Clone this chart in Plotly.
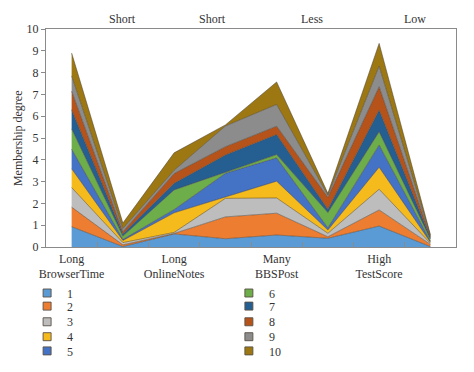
import plotly.graph_objects as go

# Category positions along the x axis (0..7)
x_pos = [0, 1, 2, 3, 4, 5, 6, 7]
bottom_labels = ["Long<br>BrowserTime", "Long<br>OnlineNotes", "Many<br>BBSPost", "High<br>TestScore"]
bottom_label_pos = [0, 2, 4, 6]
top_labels = ["Short", "Short", "Less", "Low"]
top_label_pos = [1, 3, 5, 7]

series_names = ["1", "2", "3", "4", "5", "6", "7", "8", "9", "10"]
s1 = [0.93, 0.02, 0.60, 0.38, 0.55, 0.40, 0.96, 0.02]
s2 = [0.90, 0.08, 0.02, 1.00, 1.00, 0.07, 0.74, 0.10]
s3 = [0.90, 0.10, 0.05, 0.85, 0.70, 0.16, 0.95, 0.05]
s4 = [0.86, 0.10, 0.90, 0.08, 0.77, 0.15, 1.01, 0.05]
s5 = [0.90, 0.05, 0.15, 1.07, 1.07, 0.10, 1.02, 0.05]
s6 = [0.93, 0.15, 0.90, 0.04, 0.15, 0.70, 0.61, 0.10]
s7 = [0.88, 0.10, 0.30, 0.80, 0.92, 0.15, 0.99, 0.05]
s8 = [0.85, 0.10, 0.45, 0.38, 0.38, 0.55, 1.07, 0.05]
s9 = [0.70, 0.15, 0.15, 0.95, 1.00, 0.10, 0.95, 0.05]
s10 = [1.05, 0.25, 0.80, 0.05, 1.03, 0.08, 1.04, 0.05]
series_values = [s1, s2, s3, s4, s5, s6, s7, s8, s9, s10]

colors = ["#5B9BD5", "#ED7D31", "#BDBDBD", "#F5BA1C", "#4472C4",
          "#6DAE4A", "#255E91", "#B5531A", "#8C8C8C", "#9C7712"]

FONT = "Liberation Serif"
fig = go.Figure()

for name, vals, col in zip(series_names, series_values, colors):
    fig.add_trace(go.Scatter(
        x=x_pos, y=vals, name=name, stackgroup="one", mode="lines",
        line=dict(color="rgba(70,60,50,0.85)", width=0.6),
        fillcolor=col, showlegend=False, hoverinfo="skip"))

# Legend entries: one legend per item, arranged in two columns (container coords)
leg_rows_y = [0.217, 0.181, 0.138, 0.097, 0.058]
leg_cols_x = [0.041, 0.474]
layout_legends = {}
for i, (name, col) in enumerate(zip(series_names, colors)):
    lid = "legend" if i == 0 else f"legend{i+1}"
    fig.add_trace(go.Scatter(
        x=[None], y=[None], name=name, mode="markers",
        marker=dict(symbol="square", size=8, color=col,
                    line=dict(color="rgba(90,80,70,0.9)", width=1)),
        legend=lid, showlegend=True))
    layout_legends[lid] = dict(
        x=leg_cols_x[i // 5], y=leg_rows_y[i % 5], xref="container", yref="container",
        xanchor="left", yanchor="middle",
        bgcolor="rgba(0,0,0,0)", font=dict(family=FONT, size=12, color="#333"),
        itemwidth=30, tracegroupgap=0)

# Top labels
for lab, pos, sh in zip(top_labels, top_label_pos, [0, -13, -16, -15]):
    fig.add_annotation(x=pos, y=1, xref="x", yref="paper", text=lab,
                       showarrow=False, yanchor="bottom", yshift=1, xshift=sh,
                       font=dict(family=FONT, size=12, color="#333"))

# Y-axis title
fig.add_annotation(x=-0.068, y=0.5, xref="paper", yref="paper", text="Membership degree",
                   textangle=-90, showarrow=False, xanchor="center", yanchor="middle",
                   font=dict(family=FONT, size=12, color="#333"))

fig.update_layout(
    width=466, height=364,
    margin=dict(l=38, r=18, t=21, b=125, autoexpand=False),
    paper_bgcolor="white", plot_bgcolor="white",
    font=dict(family=FONT, size=12, color="#333"),
    xaxis=dict(range=[-0.5, 7.5], tickvals=bottom_label_pos, ticktext=bottom_labels,
               ticks="", showgrid=False, zeroline=False, showline=True, automargin=False,
               linecolor="#8a8a8a", linewidth=1.2, mirror=True,
               tickfont=dict(family=FONT, size=12, color="#333")),
    xaxis2=dict(overlaying="x", matches="x", side="bottom", anchor="y",
                tickvals=[0.5, 1.5, 2.5, 3.5, 4.5, 5.5, 6.5], showticklabels=False,
                ticks="inside", ticklen=5, tickcolor="#8a8a8a", showgrid=False,
                zeroline=False, automargin=False),
    yaxis=dict(range=[0, 10], dtick=1, ticks="outside", ticklen=4, tickcolor="#8a8a8a",
               showgrid=False, zeroline=False, showline=True, linecolor="#8a8a8a",
               linewidth=1.2, mirror=True, automargin=False,
               tickfont=dict(family=FONT, size=12, color="#333")),
    **layout_legends,
)
# dummy trace to activate xaxis2
fig.add_trace(go.Scatter(x=[None], y=[None], xaxis="x2", showlegend=False))

fig.write_html("out.html")
